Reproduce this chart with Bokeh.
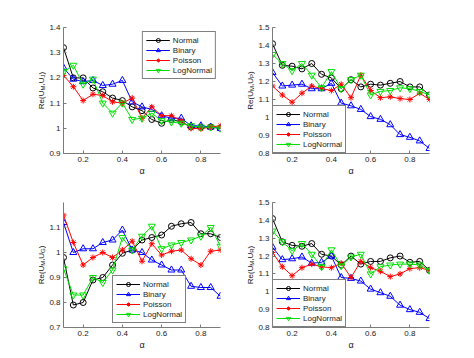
import math
from bokeh.plotting import figure
from bokeh.layouts import gridplot
from bokeh.models import Legend, LegendItem, FixedTicker, Range1d
from bokeh.core.properties import value
from bokeh.embed import file_html
from bokeh.resources import INLINE

FONT = "Liberation Sans"

# ---------------- data ----------------
alpha = [0.1, 0.15, 0.2, 0.25, 0.3, 0.35, 0.4, 0.45, 0.5, 0.55,
         0.6, 0.65, 0.7, 0.75, 0.8, 0.85, 0.9]
series_names = ["Normal", "Binary", "Poisson", "LogNormal"]

# Re(U_M, U_J)
j_normal = [1.32, 1.20, 1.20, 1.16, 1.145, 1.12, 1.11, 1.085, 1.07, 1.035, 1.02, 1.035, 1.025, 1.005, 1.005, 1.005, 1.0]
j_binary = [1.24, 1.195, 1.185, 1.19, 1.17, 1.175, 1.19, 1.105, 1.085, 1.075, 1.05, 1.04, 1.04, 1.01, 1.01, 1.005, 1.0]
j_poisson = [1.21, 1.165, 1.11, 1.135, 1.13, 1.105, 1.10, 1.12, 1.04, 1.085, 1.05, 1.05, 1.03, 1.0, 0.998, 1.005, 1.01]
j_lognormal = [1.225, 1.25, 1.175, 1.195, 1.10, 1.06, 1.10, 1.035, 1.04, 1.06, 1.03, 1.025, 1.02, 1.01, 1.005, 1.005, 1.0]

# Re(U_M, U_P)
p_normal = [1.41, 1.29, 1.285, 1.27, 1.30, 1.24, 1.22, 1.16, 1.21, 1.17, 1.185, 1.18, 1.19, 1.20, 1.17, 1.17, 1.125]
p_binary = [1.25, 1.175, 1.18, 1.185, 1.16, 1.16, 1.19, 1.08, 1.065, 1.045, 1.005, 0.99, 0.96, 0.905, 0.89, 0.87, 0.828]
p_poisson = [1.175, 1.125, 1.085, 1.135, 1.175, 1.16, 1.15, 1.185, 1.11, 1.235, 1.15, 1.11, 1.115, 1.105, 1.10, 1.135, 1.10]
p_lognormal = [1.35, 1.30, 1.26, 1.30, 1.235, 1.165, 1.255, 1.16, 1.21, 1.235, 1.125, 1.145, 1.15, 1.165, 1.16, 1.145, 1.125]

# Re(U_M, U_G)
g_normal = [0.98, 0.79, 0.80, 0.89, 0.90, 0.95, 0.997, 1.01, 1.05, 1.06, 1.07, 1.105, 1.115, 1.12, 1.075, 1.075, 1.06]
g_binary = [1.12, 1.0, 1.015, 1.015, 1.04, 1.05, 1.09, 1.01, 1.0, 0.97, 0.95, 0.93, 0.93, 0.865, 0.86, 0.86, 0.825]
g_poisson = [1.15, 1.04, 0.95, 0.98, 1.0, 0.98, 1.01, 1.045, 0.965, 1.035, 0.99, 1.005, 1.01, 0.975, 0.95, 1.005, 1.01]
g_lognormal = [0.935, 0.83, 0.83, 0.90, 0.88, 0.93, 1.06, 1.01, 1.065, 1.105, 1.015, 1.03, 1.04, 1.05, 1.065, 1.10, 1.025]

# Re(U_M, U_R)
r_normal = [1.41, 1.28, 1.26, 1.255, 1.27, 1.21, 1.20, 1.15, 1.20, 1.155, 1.17, 1.17, 1.19, 1.20, 1.165, 1.17, 1.12]
r_binary = [1.25, 1.18, 1.185, 1.195, 1.16, 1.165, 1.20, 1.08, 1.075, 1.06, 1.015, 0.995, 0.975, 0.925, 0.90, 0.885, 0.85]
r_poisson = [1.22, 1.14, 1.09, 1.135, 1.155, 1.14, 1.135, 1.16, 1.08, 1.17, 1.135, 1.115, 1.085, 1.10, 1.13, 1.135, 1.12]
r_lognormal = [1.34, 1.28, 1.23, 1.27, 1.21, 1.14, 1.235, 1.145, 1.195, 1.21, 1.10, 1.14, 1.15, 1.155, 1.155, 1.15, 1.12]

x_ticks = [0.2, 0.4, 0.6, 0.8]
x_tick_labels = ["0.2", "0.4", "0.6", "0.8"]
j_ticks = [0.9, 1.0, 1.1, 1.2, 1.3, 1.4]
j_tick_labels = ["0.9", "1", "1.1", "1.2", "1.3", "1.4"]
p_ticks = [0.8, 0.9, 1.0, 1.1, 1.2, 1.3, 1.4, 1.5]
p_tick_labels = ["0.8", "0.9", "1", "1.1", "1.2", "1.3", "1.4", "1.5"]
g_ticks = [0.7, 0.8, 0.9, 1.0, 1.1]
g_tick_labels = ["0.7", "0.8", "0.9", "1", "1.1"]

# ---------------- style ----------------
COLORS = ["#000000", "#0000ff", "#ff0000", "#00e000"]
MARKERS = ["circle", "triangle", "asterisk", "inverted_triangle"]
SIZES = [6, 7, 6, 7]
FRAME_W, FRAME_H = 159, 126

CHAR_W = {"R": .722, "e": .556, "(": .333, ")": .333, "U": .722, "M": .833,
          ",": .278, "J": .5, "P": .667, "G": .778}


def text_w(s, size):
    return sum(CHAR_W.get(c, .6) for c in s) * size


def ylabel_fig(sub, w, bt, bb, base_x):
    """Narrow frameless figure holding the rotated y-label with subscripts."""
    f = figure(width=w, height=bt + FRAME_H + bb, output_backend="svg",
               toolbar_location=None, tools="",
               x_range=Range1d(0, w), y_range=Range1d(0, FRAME_H),
               x_axis_location=None, y_axis_location=None,
               min_border_left=0, min_border_right=0,
               min_border_top=bt, min_border_bottom=bb)
    f.outline_line_color = None
    f.grid.visible = False
    f.background_fill_color = "white"
    f.border_fill_color = "white"
    pieces = [("Re(U", 8, 0), ("M", 6, 1.5), (",U", 8, 0), (sub, 6, 1.5), (")", 8, 0)]
    total = sum(text_w(t, s) for t, s, _ in pieces)
    pos = FRAME_H / 2 - total / 2
    for t, s, shift in pieces:
        f.text(x=[base_x + shift], y=[pos], text=[t], angle=math.pi / 2,
               text_align="left", text_baseline="alphabetic",
               text_font=value(FONT), text_font_size=value(f"{s}px"),
               text_color="#111111")
        pos += text_w(t, s)
    return f


def panel(vals, ylim, yticks, ylabels, legend_loc, legend_margin,
          bl, br, bt, bb):
    p = figure(width=bl + FRAME_W + br, height=bt + FRAME_H + bb,
               output_backend="svg", toolbar_location=None,
               tools="", x_range=Range1d(0.1, 0.9), y_range=Range1d(*ylim),
               min_border_left=bl, min_border_right=br,
               min_border_top=bt, min_border_bottom=bb)
    p.outline_line_color = None
    p.xgrid.visible = False
    p.ygrid.visible = False
    p.background_fill_color = "white"
    p.border_fill_color = "white"

    for ax in (p.xaxis[0], p.yaxis[0]):
        ax.axis_line_color = "#7a7a7a"
        ax.major_tick_line_color = "#7a7a7a"
        ax.major_tick_in = 3
        ax.major_tick_out = 0
        ax.minor_tick_line_color = None
        ax.major_label_text_font = FONT
        ax.major_label_text_font_size = "8px"
        ax.major_label_text_color = "#222222"
    p.xaxis.ticker = FixedTicker(ticks=x_ticks)
    p.xaxis.major_label_overrides = dict(zip(x_ticks, x_tick_labels))
    p.yaxis.ticker = FixedTicker(ticks=yticks)
    p.yaxis.major_label_overrides = dict(zip(yticks, ylabels))
    p.xaxis.major_label_standoff = 3
    p.yaxis.major_label_standoff = 3
    p.xaxis.axis_label = "α"
    p.xaxis.axis_label_standoff = 1
    p.xaxis.axis_label_text_font = FONT
    p.xaxis.axis_label_text_font_size = "9px"
    p.xaxis.axis_label_text_font_style = "normal"
    p.xaxis.axis_label_text_color = "#222222"

    items = []
    for name, ys, c, m, s in zip(series_names, vals, COLORS, MARKERS, SIZES):
        lr = p.line(alpha, ys, line_color=c, line_width=1)
        sr = p.scatter(alpha, ys, marker=m, size=s, line_color=c,
                       fill_color=None, line_width=1)
        items.append(LegendItem(label=name, renderers=[lr, sr]))

    leg = Legend(items=items, location=legend_loc, margin=legend_margin,
                 border_line_color="black", border_line_width=1,
                 background_fill_color="white", background_fill_alpha=1,
                 label_text_font=FONT, label_text_font_size="8px",
                 label_text_color="#222222",
                 glyph_width=24, glyph_height=10, label_height=10,
                 label_standoff=3, spacing=0, padding=3)
    p.add_layout(leg)
    return p


# top row: top border 27, bottom 25 ; bottom row: top 24, bottom 24
l1 = ylabel_fig("J", 46, 27, 25, 41)
p1 = panel([j_normal, j_binary, j_poisson, j_lognormal], (0.9, 1.4), j_ticks,
           j_tick_labels, "top_right", 4, 15, 10, 27, 25)
l2 = ylabel_fig("P", 25, 27, 25, 20)
p2 = panel([p_normal, p_binary, p_poisson, p_lognormal], (0.8, 1.5), p_ticks,
           p_tick_labels, "bottom_left", 0, 15, 20, 27, 25)
l3 = ylabel_fig("G", 46, 24, 24, 41)
p3 = panel([g_normal, g_binary, g_poisson, g_lognormal], (0.7, 1.2), g_ticks,
           g_tick_labels, (49, 4), 0, 15, 10, 24, 24)
l4 = ylabel_fig("R", 25, 24, 24, 20)
p4 = panel([r_normal, r_binary, r_poisson, r_lognormal], (0.8, 1.5), p_ticks,
           p_tick_labels, "bottom_left", 0, 15, 20, 24, 24)

grid = gridplot([[l1, p1, l2, p2], [l3, p3, l4, p4]], toolbar_location=None)

open("out.html", "w").write(file_html(grid, INLINE))
